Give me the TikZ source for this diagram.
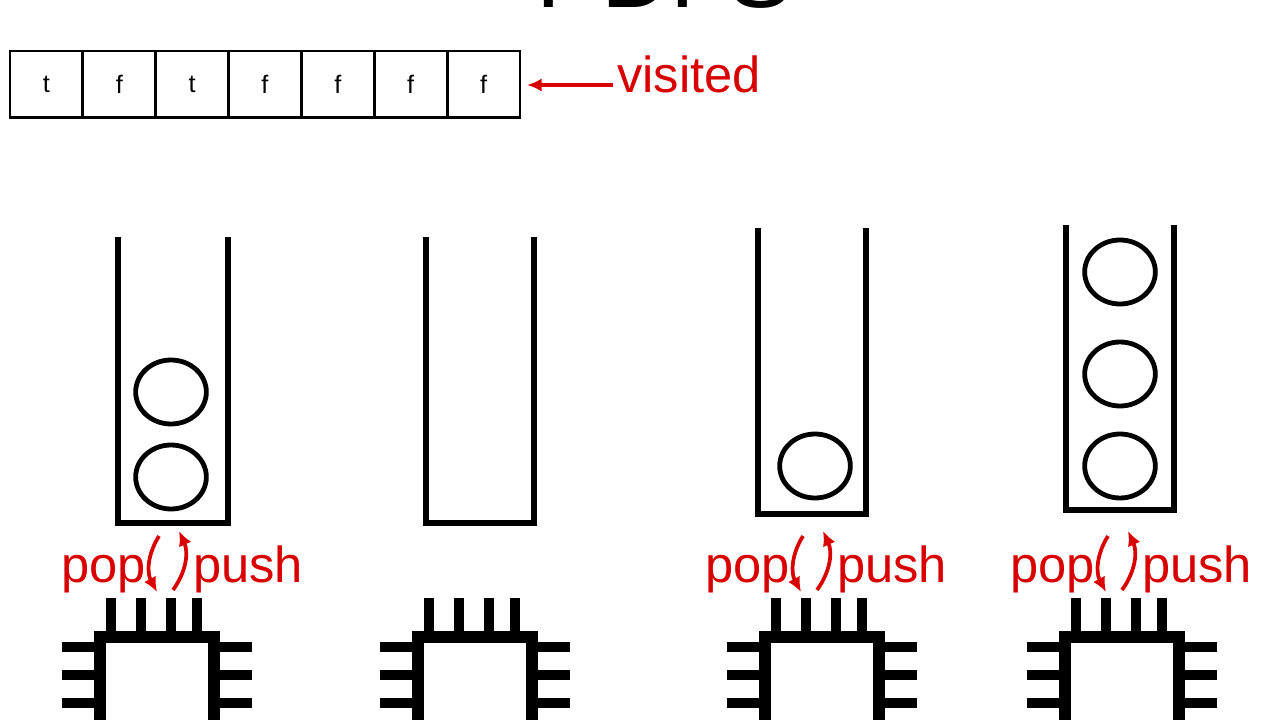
\documentclass[tikz,border=0pt]{standalone}
\usepackage{fontspec}
\setmainfont{Liberation Sans}
\usetikzlibrary{arrows.meta,shapes.geometric}
\begin{document}
\begin{tikzpicture}[x=0.75pt,y=-0.75pt,
  wall/.style={line width=4pt},
  ball/.style={draw,line width=3.6pt,ellipse,minimum width=53pt,minimum height=48pt,inner sep=0pt},
  cell/.style={draw,line width=2pt,minimum width=54.4pt,minimum height=50pt,inner sep=0pt,font=\fontsize{19}{19}\selectfont},
  redtxt/.style={text=red!85!black,font=\fontsize{38}{38}\selectfont,inner sep=0pt},
  pin/.style={line width=7.5pt},
  chipbody/.style={line width=9pt},
  redarr/.style={red!85!black,line width=2.8pt,-{Latex[length=11pt,width=10pt]}}]
\useasboundingbox[clip] (0,0) rectangle (1280,720);
\fill[white] (0,0) rectangle (1280,720);
% title (cut off)
\node[anchor=base,inner sep=0pt,font=\fontsize{72}{72}\selectfont] (title) at (665,8) {PDFS};
% visited array
\foreach \t [count=\i] in {t,f,t,f,f,f,f}{
  \node[cell] (c\i) at ({10+72.86*(\i-0.5)},84.5) {\t};
}
\node[redtxt,anchor=base west] (vis) at (617,93) {visited};
\coordinate (vs) at (613,85);
\coordinate (ve) at (527,85);
\draw[redarr] (vs) -- (ve);
% stacks
\def\stack#1#2#3#4{%
  \draw[wall,line cap=rect] (#1,#3) -- (#1,#4) -- (#2,#4) -- (#2,#3);}
\stack{118}{228}{240}{523}
\stack{426}{534}{240}{523}
\stack{758}{866}{231}{514}
\stack{1066}{1174}{228}{510}
\node[ball] (b1) at (171,392) {};
\node[ball] (b2) at (171,477) {};
\node[ball] (b3) at (815,466) {};
\node[ball] (b4) at (1120,272) {};
\node[ball] (b5) at (1120,374) {};
\node[ball] (b6) at (1120,466) {};
% pop/push labels
\foreach \cx/\n in {171/a,815/b,1120/c}{
  \node[redtxt,anchor=base east] (pop\n) at (\cx-25,582) {pop};
  \node[redtxt,anchor=base west] (push\n) at (\cx+22,582) {push};
  \coordinate (p1\n) at (\cx-12,536);
  \coordinate (p2\n) at (\cx-14,592);
  \coordinate (q1\n) at (\cx+2,590);
  \coordinate (q2\n) at (\cx+8,531);
  \draw[redarr] (p1\n) to[bend right=30] (p2\n);
  \draw[redarr] (q1\n) to[bend right=30] (q2\n);
}
% chips
\foreach \cx in {157,475,822,1122}{
  \draw[chipbody] (\cx-57,730) -- (\cx-57,637) -- (\cx+57,637) -- (\cx+57,730);
  \foreach \dx in {-46,-16,14,40}{\draw[pin] (\cx+\dx,598) -- (\cx+\dx,633);}
  \foreach \yy in {647,675,703}{
    \draw[pin] (\cx-95,\yy) -- (\cx-62,\yy);
    \draw[pin] (\cx+62,\yy) -- (\cx+95,\yy);}
}
\end{tikzpicture}
\end{document}
